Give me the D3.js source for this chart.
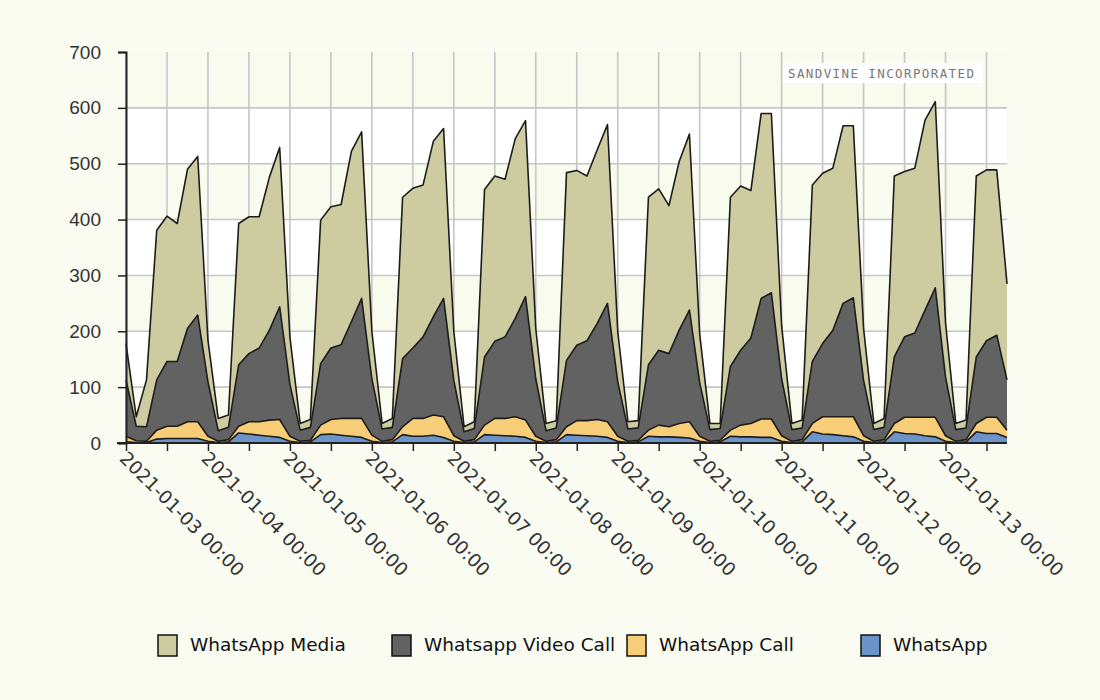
<!DOCTYPE html>
<html>
<head>
<meta charset="utf-8">
<script src="https://cdn.jsdelivr.net/npm/d3@7"></script>
<style>
  body { margin: 0; background: #fafcf2; }
  svg { display: block; font-family: "DejaVu Sans", Verdana, sans-serif; }
</style>
</head>
<body>
<div id="chart"></div>
<script>
// 3-hourly samples starting 2021-01-03 00:00
const startTime = new Date(2021, 0, 3, 0, 0);
const stepHours = 3;

const tickLabels = ["2021-01-03 00:00", "2021-01-04 00:00", "2021-01-05 00:00", "2021-01-06 00:00",
  "2021-01-07 00:00", "2021-01-08 00:00", "2021-01-09 00:00", "2021-01-10 00:00",
  "2021-01-11 00:00", "2021-01-12 00:00", "2021-01-13 00:00"];

const seriesNames = ["WhatsApp Media", "Whatsapp Video Call", "WhatsApp Call", "WhatsApp"];
const seriesColors = ["#cdcca0", "#626262", "#f7cd78", "#6c94c8"];

const whatsapp = [2, 1, 1, 7, 8, 8, 8, 8,
  3, 1, 2, 18, 16, 14, 12, 10,
  3, 1, 2, 15, 16, 14, 12, 10,
  3, 1, 2, 15, 12, 12, 14, 10,
  3, 1, 2, 15, 14, 13, 12, 10,
  3, 1, 2, 15, 14, 13, 12, 10,
  3, 1, 2, 12, 11, 11, 10, 9,
  3, 1, 2, 12, 11, 11, 10, 10,
  3, 1, 2, 20, 16, 15, 13, 11,
  3, 1, 2, 20, 17, 16, 13, 11,
  3, 1, 2, 20, 17, 17, 10];

const whatsappCall = [10, 3, 2, 16, 22, 22, 30, 30,
  9, 2, 4, 12, 22, 24, 29, 32,
  9, 2, 3, 17, 26, 30, 32, 34,
  11, 2, 4, 14, 32, 32, 36, 37,
  10, 2, 4, 17, 30, 31, 35, 31,
  9, 2, 4, 14, 26, 27, 30, 28,
  9, 2, 3, 11, 21, 18, 25, 29,
  9, 2, 3, 11, 21, 24, 33, 33,
  10, 2, 4, 15, 31, 32, 34, 36,
  10, 2, 4, 15, 29, 30, 33, 35,
  10, 2, 4, 15, 29, 29, 13];

const videoCall = [101, 26, 26, 90, 116, 116, 167, 191,
  98, 19, 22, 110, 122, 132, 161, 202,
  93, 20, 23, 110, 128, 132, 173, 215,
  101, 22, 22, 122, 126, 146, 176, 212,
  99, 17, 20, 122, 138, 146, 176, 221,
  103, 19, 21, 119, 135, 143, 172, 212,
  98, 22, 22, 117, 134, 131, 167, 200,
  96, 21, 21, 114, 134, 153, 216, 226,
  102, 21, 21, 111, 131, 155, 203, 213,
  99, 21, 22, 119, 144, 151, 192, 232,
  105, 21, 21, 119, 137, 147, 90];

const media = [65, 17, 84, 268, 260, 247, 285, 284,
  74, 22, 22, 253, 245, 235, 274, 285,
  85, 12, 14, 257, 253, 251, 305, 298,
  85, 10, 16, 289, 286, 272, 314, 304,
  88, 9, 12, 300, 296, 282, 322, 315,
  90, 13, 13, 336, 313, 295, 311, 320,
  90, 13, 13, 300, 289, 265, 302, 315,
  87, 11, 9, 303, 294, 264, 331, 321,
  95, 11, 14, 316, 305, 290, 318, 308,
  93, 11, 16, 324, 296, 295, 340, 333,
  97, 11, 14, 324, 306, 296, 172];

const yTicks = [0, 100, 200, 300, 400, 500, 600, 700];

const rows = media.map((m, i) => ({
  time: d3.timeHour.offset(startTime, i * stepHours),
  "WhatsApp": whatsapp[i],
  "WhatsApp Call": whatsappCall[i],
  "Whatsapp Video Call": videoCall[i],
  "WhatsApp Media": m
}));

const svgWidth = 1100;
const svgHeight = 700;
const plot = { left: 126, right: 1007, top: 52, bottom: 443 };

const svg = d3.select("#chart").append("svg")
  .attr("width", svgWidth)
  .attr("height", svgHeight);

const x = d3.scaleTime()
  .domain(d3.extent(rows, d => d.time))
  .range([plot.left, plot.right]);

const y = d3.scaleLinear()
  .domain([0, 700])
  .range([plot.bottom, plot.top]);

// alternating background bands
svg.append("g").selectAll("rect")
  .data(d3.pairs(yTicks))
  .join("rect")
  .attr("x", plot.left)
  .attr("width", plot.right - plot.left)
  .attr("y", d => y(d[1]))
  .attr("height", d => y(d[0]) - y(d[1]))
  .attr("fill", (d, i) => i % 2 === 1 ? "#ffffff" : "#f8fbee");

// grid
const xTicks = d3.timeHour.every(12).range(x.domain()[0], d3.timeHour.offset(x.domain()[1], 1));
svg.append("g").selectAll("line")
  .data(xTicks)
  .join("line")
  .attr("x1", d => x(d)).attr("x2", d => x(d))
  .attr("y1", plot.top).attr("y2", plot.bottom)
  .attr("stroke", "#c6c6c6").attr("stroke-width", 1.6);

svg.append("g").selectAll("line")
  .data(yTicks.filter(v => v > 0 && v < 700))
  .join("line")
  .attr("x1", plot.left).attr("x2", plot.right)
  .attr("y1", d => y(d)).attr("y2", d => y(d))
  .attr("stroke", "#c6c6c6").attr("stroke-width", 1.6);

// watermark
svg.append("rect")
  .attr("x", 783).attr("y", 63).attr("width", 200).attr("height", 20)
  .attr("fill", "#ffffff");
svg.append("text")
  .attr("x", 788).attr("y", 77.5)
  .attr("textLength", 186).attr("lengthAdjust", "spacing")
  .style("font-family", "'DejaVu Sans Mono', monospace")
  .style("font-size", "12.5px")
  .attr("fill", "#777")
  .text("SANDVINE INCORPORATED");

// stacked areas
const keys = ["WhatsApp", "WhatsApp Call", "Whatsapp Video Call", "WhatsApp Media"];
const colorOf = d3.scaleOrdinal().domain(seriesNames).range(seriesColors);
const stacked = d3.stack().keys(keys)(rows);

const area = d3.area()
  .x(d => x(d.data.time))
  .y0(d => y(d[0]))
  .y1(d => y(d[1]));

const topLine = d3.line()
  .x(d => x(d.data.time))
  .y(d => y(d[1]));

const layers = svg.append("g");
layers.selectAll("path.area")
  .data(stacked)
  .join("path")
  .attr("class", "area")
  .attr("d", area)
  .attr("fill", d => colorOf(d.key));

layers.selectAll("path.edge")
  .data(stacked)
  .join("path")
  .attr("class", "edge")
  .attr("d", topLine)
  .attr("fill", "none")
  .attr("stroke", "#1c1c1c")
  .attr("stroke-width", 1.6)
  .attr("stroke-linejoin", "round");

// axes
const yAxis = svg.append("g")
  .attr("transform", `translate(${plot.left},0)`)
  .call(d3.axisLeft(y).tickValues(yTicks).tickSize(8).tickPadding(17));
yAxis.select(".domain").attr("stroke", "#222").attr("stroke-width", 2);
yAxis.selectAll(".tick line").attr("stroke", "#222").attr("stroke-width", 1.5);
yAxis.selectAll("text").style("font-size", "19px").attr("fill", "#333");

const xAxis = svg.append("g")
  .attr("transform", `translate(0,${plot.bottom})`)
  .call(d3.axisBottom(x).tickValues(xTicks).tickSize(8).tickFormat(""));
xAxis.select(".domain").attr("d", `M${plot.left - 9},0H${plot.right}`)
  .attr("stroke", "#222").attr("stroke-width", 2);
xAxis.selectAll(".tick line").attr("stroke", "#222").attr("stroke-width", 1.5);

// rotated day labels
const dayTicks = xTicks.filter(d => d.getHours() === 0);
svg.append("g").selectAll("text")
  .data(dayTicks)
  .join("text")
  .attr("transform", d => `translate(${x(d) - 3},${plot.bottom + 12}) rotate(45)`)
  .attr("dy", "0.35em")
  .style("font-size", "18.5px")
  .attr("fill", "#333")
  .text((d, i) => tickLabels[i]);

// legend
const legendX = [158, 392, 627, 861];
const legend = svg.append("g").selectAll("g")
  .data(seriesNames)
  .join("g")
  .attr("transform", (d, i) => `translate(${legendX[i]},635)`);
legend.append("rect")
  .attr("width", 19).attr("height", 21)
  .attr("fill", d => colorOf(d))
  .attr("stroke", "#111").attr("stroke-width", 1.5);
legend.append("text")
  .attr("x", 32).attr("y", 16)
  .style("font-size", "18.5px")
  .attr("fill", "#111")
  .text(d => d);
</script>
</body>
</html>
